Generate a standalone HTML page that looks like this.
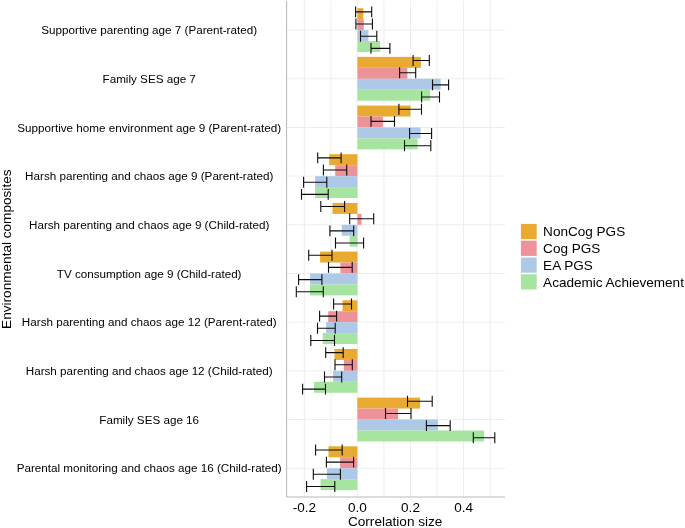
<!DOCTYPE html><html><head><meta charset="utf-8"><title>Correlation chart</title>
<style>html,body{margin:0;padding:0;background:#fff}svg{display:block}text{font-family:"Liberation Sans",sans-serif;fill:#000}.yl{font-size:11.67px;text-anchor:middle}.xl{font-size:13.55px;text-anchor:middle}.lg{font-size:13.55px}.ti{font-size:13.6px;text-anchor:middle}</style></head><body>
<svg width="685" height="528" viewBox="0 0 685 528">
<rect x="0" y="0" width="685" height="528" fill="#fff"/>
<g stroke="#ededed" stroke-width="1" fill="none">
<line x1="304.30" y1="0.9" x2="304.30" y2="497.0"/>
<line x1="330.85" y1="0.9" x2="330.85" y2="497.0"/>
<line x1="357.40" y1="0.9" x2="357.40" y2="497.0"/>
<line x1="383.95" y1="0.9" x2="383.95" y2="497.0"/>
<line x1="410.50" y1="0.9" x2="410.50" y2="497.0"/>
<line x1="437.05" y1="0.9" x2="437.05" y2="497.0"/>
<line x1="463.60" y1="0.9" x2="463.60" y2="497.0"/>
<line x1="490.15" y1="0.9" x2="490.15" y2="497.0"/>
<line x1="286.6" y1="30.10" x2="505" y2="30.10"/>
<line x1="286.6" y1="78.78" x2="505" y2="78.78"/>
<line x1="286.6" y1="127.46" x2="505" y2="127.46"/>
<line x1="286.6" y1="176.14" x2="505" y2="176.14"/>
<line x1="286.6" y1="224.82" x2="505" y2="224.82"/>
<line x1="286.6" y1="273.50" x2="505" y2="273.50"/>
<line x1="286.6" y1="322.18" x2="505" y2="322.18"/>
<line x1="286.6" y1="370.86" x2="505" y2="370.86"/>
<line x1="286.6" y1="419.54" x2="505" y2="419.54"/>
<line x1="286.6" y1="468.22" x2="505" y2="468.22"/>
</g>
<rect x="357.40" y="8.19" width="5.90" height="10.95" fill="#E8AA30"/>
<rect x="357.40" y="19.15" width="6.40" height="10.95" fill="#EE929A"/>
<rect x="357.40" y="30.10" width="11.00" height="10.95" fill="#AEC9E8"/>
<rect x="357.40" y="41.05" width="22.90" height="10.95" fill="#A6E4A0"/>
<rect x="357.40" y="56.87" width="63.50" height="10.95" fill="#E8AA30"/>
<rect x="357.40" y="67.83" width="50.00" height="10.95" fill="#EE929A"/>
<rect x="357.40" y="78.78" width="83.20" height="10.95" fill="#AEC9E8"/>
<rect x="357.40" y="89.73" width="72.80" height="10.95" fill="#A6E4A0"/>
<rect x="357.40" y="105.55" width="53.00" height="10.95" fill="#E8AA30"/>
<rect x="357.40" y="116.51" width="25.50" height="10.95" fill="#EE929A"/>
<rect x="357.40" y="127.46" width="63.20" height="10.95" fill="#AEC9E8"/>
<rect x="357.40" y="138.41" width="60.20" height="10.95" fill="#A6E4A0"/>
<rect x="329.20" y="154.23" width="28.20" height="10.95" fill="#E8AA30"/>
<rect x="335.20" y="165.19" width="22.20" height="10.95" fill="#EE929A"/>
<rect x="315.20" y="176.14" width="42.20" height="10.95" fill="#AEC9E8"/>
<rect x="315.00" y="187.09" width="42.40" height="10.95" fill="#A6E4A0"/>
<rect x="332.50" y="202.91" width="24.90" height="10.95" fill="#E8AA30"/>
<rect x="357.40" y="213.87" width="4.10" height="10.95" fill="#EE929A"/>
<rect x="341.80" y="224.82" width="15.60" height="10.95" fill="#AEC9E8"/>
<rect x="349.70" y="235.77" width="7.70" height="10.95" fill="#A6E4A0"/>
<rect x="320.10" y="251.59" width="37.30" height="10.95" fill="#E8AA30"/>
<rect x="340.40" y="262.55" width="17.00" height="10.95" fill="#EE929A"/>
<rect x="310.10" y="273.50" width="47.30" height="10.95" fill="#AEC9E8"/>
<rect x="309.90" y="284.45" width="47.50" height="10.95" fill="#A6E4A0"/>
<rect x="342.50" y="300.27" width="14.90" height="10.95" fill="#E8AA30"/>
<rect x="328.20" y="311.23" width="29.20" height="10.95" fill="#EE929A"/>
<rect x="326.10" y="322.18" width="31.30" height="10.95" fill="#AEC9E8"/>
<rect x="322.70" y="333.13" width="34.70" height="10.95" fill="#A6E4A0"/>
<rect x="334.50" y="348.95" width="22.90" height="10.95" fill="#E8AA30"/>
<rect x="343.90" y="359.91" width="13.50" height="10.95" fill="#EE929A"/>
<rect x="333.10" y="370.86" width="24.30" height="10.95" fill="#AEC9E8"/>
<rect x="314.00" y="381.81" width="43.40" height="10.95" fill="#A6E4A0"/>
<rect x="357.40" y="397.63" width="62.70" height="10.95" fill="#E8AA30"/>
<rect x="357.40" y="408.59" width="40.70" height="10.95" fill="#EE929A"/>
<rect x="357.40" y="419.54" width="80.70" height="10.95" fill="#AEC9E8"/>
<rect x="357.40" y="430.49" width="126.70" height="10.95" fill="#A6E4A0"/>
<rect x="328.50" y="446.31" width="28.90" height="10.95" fill="#E8AA30"/>
<rect x="340.10" y="457.27" width="17.30" height="10.95" fill="#EE929A"/>
<rect x="326.90" y="468.22" width="30.50" height="10.95" fill="#AEC9E8"/>
<rect x="320.60" y="479.17" width="36.80" height="10.95" fill="#A6E4A0"/>
<g stroke="#0d0d0d" stroke-width="1.1" fill="none">
<path d="M355.60 6.40V17.30M371.70 6.40V17.30M355.60 11.85H371.70"/>
<path d="M355.90 18.57V29.46M372.40 18.57V29.46M355.90 24.02H372.40"/>
<path d="M360.50 30.74V41.64M376.80 30.74V41.64M360.50 36.19H376.80"/>
<path d="M371.00 42.91V53.81M389.90 42.91V53.81M371.00 48.36H389.90"/>
<path d="M413.10 55.08V65.98M429.30 55.08V65.98M413.10 60.53H429.30"/>
<path d="M399.60 67.25V78.15M415.70 67.25V78.15M399.60 72.70H415.70"/>
<path d="M432.50 79.41V90.31M448.60 79.41V90.31M432.50 84.86H448.60"/>
<path d="M421.60 91.58V102.48M439.50 91.58V102.48M421.60 97.03H439.50"/>
<path d="M398.90 103.76V114.66M421.50 103.76V114.66M398.90 109.21H421.50"/>
<path d="M371.00 115.93V126.83M394.50 115.93V126.83M371.00 121.38H394.50"/>
<path d="M409.60 128.10V139.00M431.60 128.10V139.00M409.60 133.55H431.60"/>
<path d="M404.50 140.27V151.16M430.80 140.27V151.16M404.50 145.72H430.80"/>
<path d="M317.70 152.44V163.33M341.10 152.44V163.33M317.70 157.88H341.10"/>
<path d="M323.40 164.60V175.50M346.70 164.60V175.50M323.40 170.05H346.70"/>
<path d="M303.60 176.78V187.67M326.80 176.78V187.67M303.60 182.22H326.80"/>
<path d="M301.50 188.94V199.84M328.20 188.94V199.84M301.50 194.39H328.20"/>
<path d="M320.80 201.12V212.01M344.60 201.12V212.01M320.80 206.56H344.60"/>
<path d="M349.70 213.28V224.18M373.70 213.28V224.18M349.70 218.73H373.70"/>
<path d="M329.90 225.46V236.35M353.70 225.46V236.35M329.90 230.91H353.70"/>
<path d="M335.50 237.62V248.52M363.60 237.62V248.52M335.50 243.07H363.60"/>
<path d="M308.70 249.80V260.69M332.00 249.80V260.69M308.70 255.25H332.00"/>
<path d="M328.50 261.97V272.87M352.20 261.97V272.87M328.50 267.42H352.20"/>
<path d="M298.60 274.13V285.03M321.90 274.13V285.03M298.60 279.58H321.90"/>
<path d="M296.30 286.31V297.20M323.30 286.31V297.20M296.30 291.75H323.30"/>
<path d="M333.60 298.48V309.38M351.50 298.48V309.38M333.60 303.93H351.50"/>
<path d="M319.60 310.65V321.55M336.60 310.65V321.55M319.60 316.10H336.60"/>
<path d="M317.50 322.81V333.71M335.20 322.81V333.71M317.50 328.26H335.20"/>
<path d="M310.80 334.99V345.88M334.50 334.99V345.88M310.80 340.44H334.50"/>
<path d="M325.70 347.16V358.06M343.20 347.16V358.06M325.70 352.61H343.20"/>
<path d="M335.00 359.33V370.23M352.30 359.33V370.23M335.00 364.78H352.30"/>
<path d="M324.50 371.50V382.39M341.70 371.50V382.39M324.50 376.94H341.70"/>
<path d="M302.60 383.67V394.56M325.50 383.67V394.56M302.60 389.12H325.50"/>
<path d="M407.50 395.84V406.74M432.20 395.84V406.74M407.50 401.29H432.20"/>
<path d="M385.50 408.01V418.91M411.00 408.01V418.91M385.50 413.46H411.00"/>
<path d="M426.40 420.18V431.07M450.20 420.18V431.07M426.40 425.62H450.20"/>
<path d="M473.30 432.35V443.25M494.80 432.35V443.25M473.30 437.80H494.80"/>
<path d="M315.60 444.52V455.42M342.20 444.52V455.42M315.60 449.97H342.20"/>
<path d="M326.40 456.69V467.59M353.60 456.69V467.59M326.40 462.14H353.60"/>
<path d="M313.30 468.86V479.75M340.40 468.86V479.75M313.30 474.31H340.40"/>
<path d="M306.60 481.03V491.93M334.80 481.03V491.93M306.60 486.48H334.80"/>
</g>
<path d="M286.6 0.9V497.0H505" stroke="#b8b8b8" stroke-width="1" fill="none"/>
<text class="yl" x="149.2" y="34.30">Supportive parenting age 7 (Parent-rated)</text>
<text class="yl" x="149.2" y="82.98">Family SES age 7</text>
<text class="yl" x="149.2" y="131.66">Supportive home environment age 9 (Parent-rated)</text>
<text class="yl" x="149.2" y="180.34">Harsh parenting and chaos age 9 (Parent-rated)</text>
<text class="yl" x="149.2" y="229.02">Harsh parenting and chaos age 9 (Child-rated)</text>
<text class="yl" x="149.2" y="277.70">TV consumption age 9 (Child-rated)</text>
<text class="yl" x="149.2" y="326.38">Harsh parenting and chaos age 12 (Parent-rated)</text>
<text class="yl" x="149.2" y="375.06">Harsh parenting and chaos age 12 (Child-rated)</text>
<text class="yl" x="149.2" y="423.74">Family SES age 16</text>
<text class="yl" x="149.2" y="472.42">Parental monitoring and chaos age 16 (Child-rated)</text>
<text class="xl" x="304.30" y="511.8">-0.2</text>
<text class="xl" x="357.40" y="511.8">0.0</text>
<text class="xl" x="410.50" y="511.8">0.2</text>
<text class="xl" x="463.60" y="511.8">0.4</text>
<text class="ti" x="395.2" y="526">Correlation size</text>
<text class="ti" transform="translate(10.8,249.2) rotate(-90)">Environmental composites</text>
<rect x="520.9" y="223.90" width="15.8" height="15.2" fill="#E8AA30"/>
<text class="lg" x="543.1" y="236.20">NonCog PGS</text>
<rect x="520.9" y="240.70" width="15.8" height="15.2" fill="#EE929A"/>
<text class="lg" x="543.1" y="253.00">Cog PGS</text>
<rect x="520.9" y="257.50" width="15.8" height="15.2" fill="#AEC9E8"/>
<text class="lg" x="543.1" y="269.80">EA PGS</text>
<rect x="520.9" y="274.30" width="15.8" height="15.2" fill="#A6E4A0"/>
<text class="lg" x="543.1" y="286.60">Academic Achievement</text>
</svg></body></html>
